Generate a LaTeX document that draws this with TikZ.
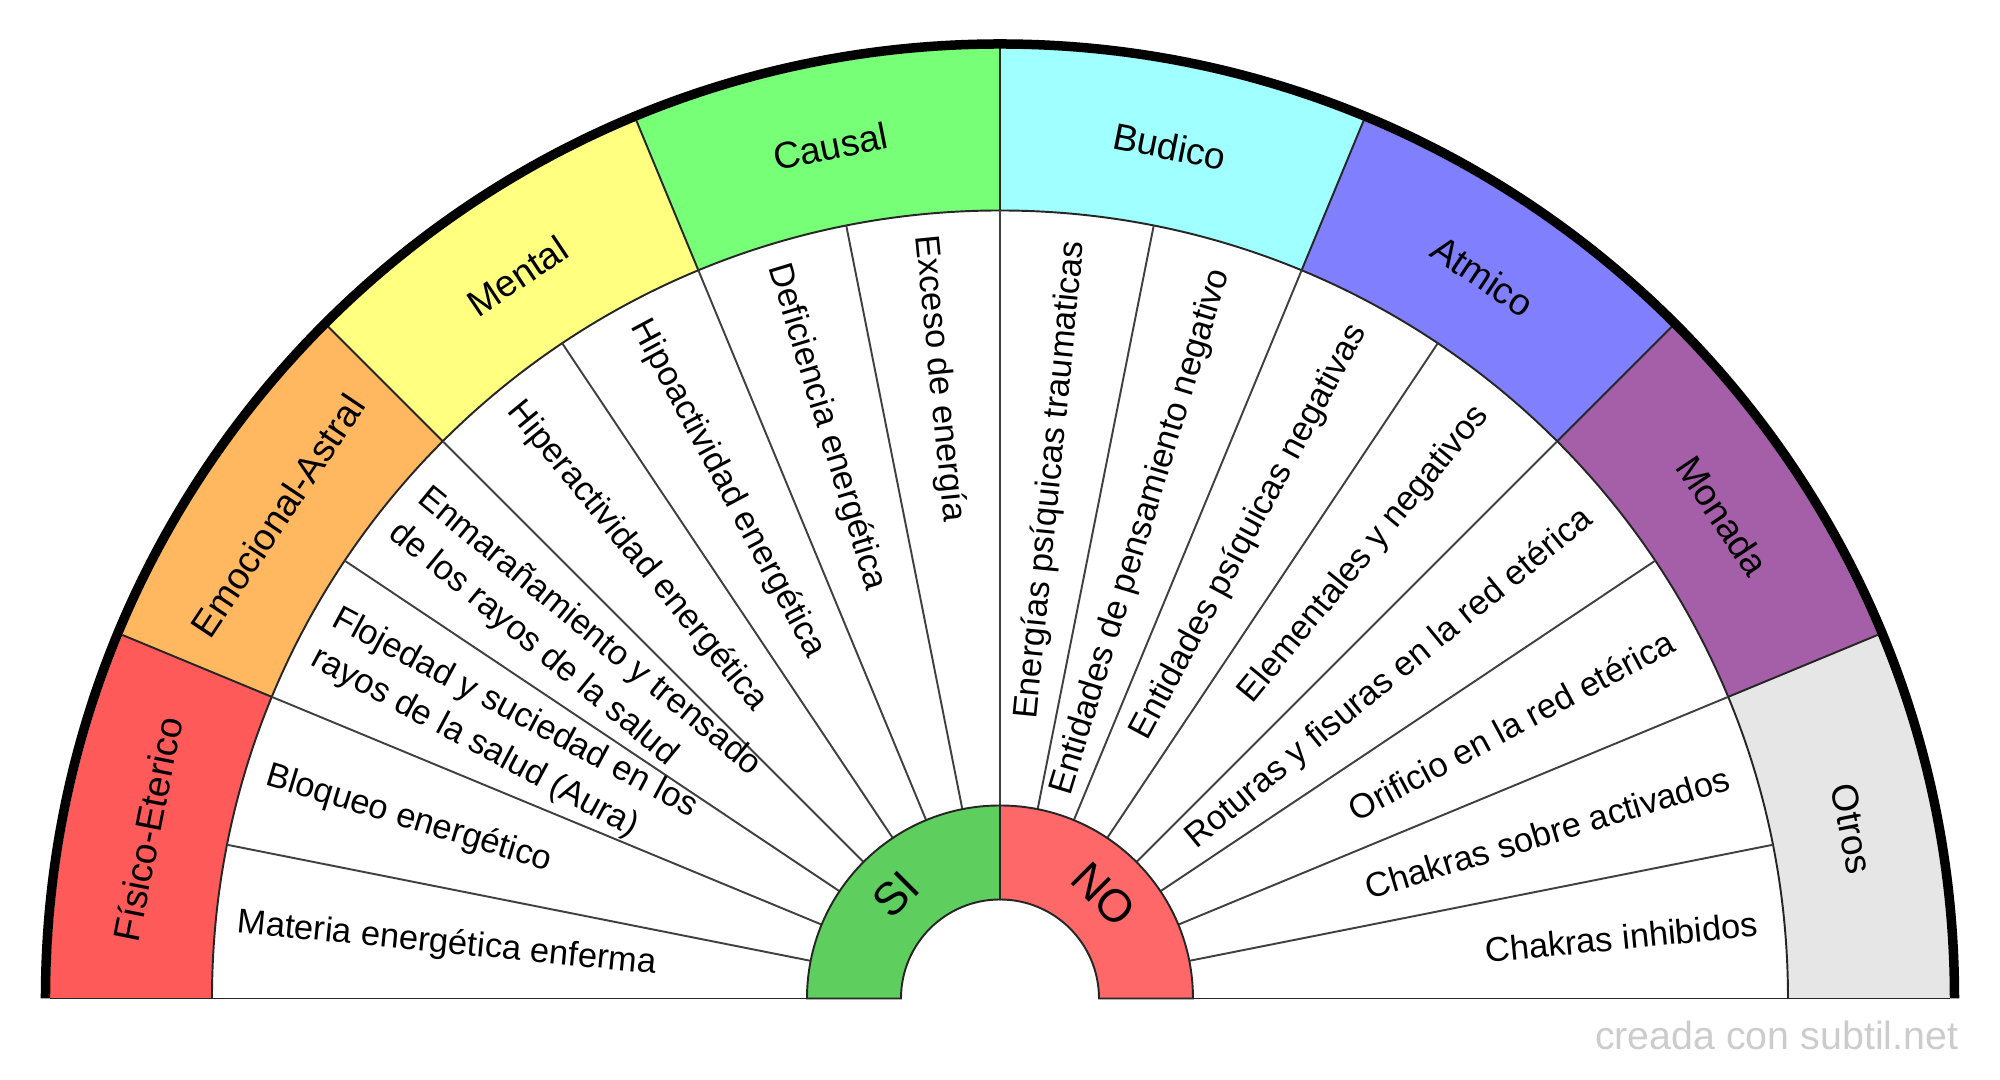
\documentclass[tikz,border=0pt]{standalone}
\usepackage{fontspec}
\setmainfont{Liberation Sans}
\definecolor{cFis}{HTML}{FF5A5A}
\definecolor{cEmo}{HTML}{FFB860}
\definecolor{cMen}{HTML}{FFFF80}
\definecolor{cCau}{HTML}{77FF77}
\definecolor{cBud}{HTML}{A0FFFF}
\definecolor{cAtm}{HTML}{8080FF}
\definecolor{cMon}{HTML}{A45FA8}
\definecolor{cOtr}{HTML}{E6E6E6}
\definecolor{cSI}{HTML}{5ECE5E}
\definecolor{cNO}{HTML}{FF6868}
\tikzset{
  bandedge/.style={draw=black!85, line width=0.55pt},
  sepline/.style={draw=black!75, line width=0.55pt},
  cat/.style={font=\fontsize{10.6}{12}\selectfont, inner sep=0pt, text=black},
  lbl/.style={font=\fontsize{9.8}{12.8}\selectfont, inner sep=0pt, align=left, text=black},
  hubtxt/.style={font=\fontsize{13}{15}\selectfont, inner sep=0pt, text=black},
}
\begin{document}
\begin{tikzpicture}
\useasboundingbox (-10,-0.815) rectangle (10,9.985);
% colour band
\foreach \c [count=\i from 0] in {cFis,cEmo,cMen,cCau,cBud,cAtm,cMon,cOtr} {
  \pgfmathsetmacro\a{180-22.5*\i}
  \pgfmathsetmacro\b{180-22.5*(\i+1)}
  \fill[fill=\c] (\a:7.88) arc[start angle=\a, end angle=\b, radius=7.88] -- (\b:9.5) arc[start angle=\b, end angle=\a, radius=9.5] -- cycle;
}
% band edges
\draw[bandedge] (0:7.88) arc[start angle=0, end angle=180, radius=7.88];
\foreach \k in {1,...,7} \draw[bandedge] (22.5*\k:7.88) -- (22.5*\k:9.5);
\draw[bandedge] (-9.5,0) -- (-0.99,0);
\draw[bandedge] (0.99,0) -- (9.5,0);
% inner radial lines
\foreach \k in {1,...,15} \draw[sepline] (11.25*\k:1.93) -- (11.25*\k:7.88);
% hub
\filldraw[fill=cSI, bandedge] (180:0.99) -- (180:1.93) arc[start angle=180, end angle=90, radius=1.93] -- (90:0.99) arc[start angle=90, end angle=180, radius=0.99] -- cycle;
\filldraw[fill=cNO, bandedge] (0:0.99) -- (0:1.93) arc[start angle=0, end angle=90, radius=1.93] -- (90:0.99) arc[start angle=90, end angle=0, radius=0.99] -- cycle;
\node[hubtxt, rotate=45] (si) at (135:1.47) {SI};
\node[hubtxt, rotate=-45] (no) at (45:1.47) {NO};
% outer rim
\draw[line width=0.095cm, line cap=butt] (0:9.545) arc[start angle=0, end angle=180, radius=9.545];
% category labels
\node[cat, rotate=78.75] (c1) at (168.75:8.69) {Físico-Eterico};
\node[cat, rotate=56.25] (c2) at (146.25:8.69) {Emocional-Astral};
\node[cat, rotate=33.75] (c3) at (123.75:8.69) {Mental};
\node[cat, rotate=11.25] (c4) at (101.25:8.69) {Causal};
\node[cat, rotate=-11.25] (c5) at (78.75:8.69) {Budico};
\node[cat, rotate=-33.75] (c6) at (56.25:8.69) {Atmico};
\node[cat, rotate=-56.25] (c7) at (33.75:8.69) {Monada};
\node[cat, rotate=-78.75] (c8) at (11.25:8.69) {Otros};
% left items
\node[lbl, anchor=west, rotate=-5.625] (l1) at (174.375:7.67) {Materia energética enferma};
\node[lbl, anchor=west, rotate=-16.875] (l2) at (163.125:7.67) {Bloqueo energético};
\node[lbl, anchor=west, rotate=-28.125] (l3) at (151.875:7.67) {Flojedad y suciedad en los\\rayos de la salud (Aura)};
\node[lbl, anchor=west, rotate=-39.375] (l4) at (140.625:7.67) {Enmarañamiento y trensado\\de los rayos de la salud};
\node[lbl, anchor=west, rotate=-50.625] (l5) at (129.375:7.67) {Hiperactividad energética};
\node[lbl, anchor=west, rotate=-61.875] (l6) at (118.125:7.67) {Hipoactividad energética};
\node[lbl, anchor=west, rotate=-73.125] (l7) at (106.875:7.67) {Deficiencia energética};
\node[lbl, anchor=west, rotate=-84.375] (l8) at (95.625:7.67) {Exceso de energía};
% right items
\node[lbl, anchor=east, rotate=84.375] (r1) at (84.375:7.62) {Energías psíquicas traumaticas};
\node[lbl, anchor=east, rotate=73.125] (r2) at (73.125:7.62) {Entidades de pensamiento negativo};
\node[lbl, anchor=east, rotate=61.875] (r3) at (61.875:7.62) {Entidades psíquicas negativas};
\node[lbl, anchor=east, rotate=50.625] (r4) at (50.625:7.62) {Elementales y negativos};
\node[lbl, anchor=east, rotate=39.375] (r5) at (39.375:7.62) {Roturas y fisuras en la red etérica};
\node[lbl, anchor=east, rotate=28.125] (r6) at (28.125:7.62) {Orificio en la red etérica};
\node[lbl, anchor=east, rotate=16.875] (r7) at (16.875:7.62) {Chakras sobre activados};
\node[lbl, anchor=east, rotate=5.625] (r8) at (5.625:7.62) {Chakras inhibidos};
% watermark
\node[anchor=base east, inner sep=0pt, text=black!20, font=\fontsize{11.2}{13}\selectfont] (wm) at (9.59,-0.515) {creada con subtil.net};
\end{tikzpicture}
\end{document}
